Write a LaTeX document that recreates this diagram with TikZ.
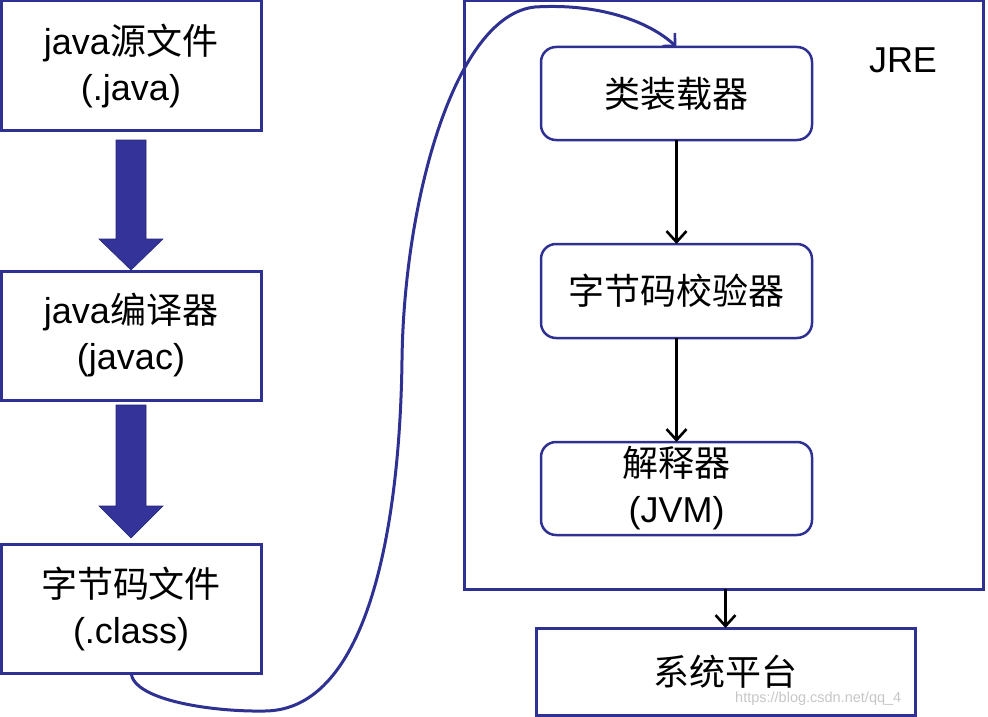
\documentclass[tikz,border=0pt]{standalone}
\usepackage{fontspec}
\setmainfont{Liberation Sans}
\newfontfamily\cjk{Noto Sans CJK SC}
\usetikzlibrary{calc,arrows.meta}
\definecolor{navy}{RGB}{46,49,146}
\definecolor{fatfill}{RGB}{51,51,153}
\begin{document}
\begin{tikzpicture}[x=1pt,y=-1pt,
  lbl/.style={align=center,font=\fontsize{36}{46}\selectfont,inner sep=0pt,outer sep=0pt},
  sqbox/.style={lbl,draw=navy,line width=3pt,fill=white},
  rbox/.style={lbl,draw=navy,line width=2.5pt,rounded corners=15pt,fill=white},
  fat/.style={fill=fatfill,draw=navy!80!black,line width=0.6pt},
  blk/.style={line width=2.6pt,-{Straight Barb[length=11pt,width=20pt,line width=2.6pt]}},
  curvy/.style={draw=navy,line width=3pt,-{Straight Barb[length=9pt,width=18pt,line width=2.6pt]}}]
\useasboundingbox (0,0) rectangle (988,717);
\fill[white] (0,0) rectangle (988,717);
% left column
\node[sqbox,minimum width=260pt,minimum height=129pt] (src) at (131,65.5) {java{\cjk 源文件}\\(.java)};
\node[sqbox,minimum width=260pt,minimum height=129pt] (javac) at (131,335.5) {java{\cjk 编译器}\\(javac)};
\node[sqbox,minimum width=260pt,minimum height=129pt] (cls) at (131,608.5) {{\cjk 字节码文件}\\(.class)};
% fat arrows
\coordinate (a1s) at ($(src.south)+(0,10)$);
\coordinate (a1e) at ($(javac.north)+(0,-1)$);
\filldraw[fat] ($(a1s)+(-15,0)$) -- ($(a1s)+(15,0)$) -- ($(a1e)+(15,-31)$) -- ($(a1e)+(32,-31)$) -- (a1e) -- ($(a1e)+(-32,-31)$) -- ($(a1e)+(-15,-31)$) -- cycle;
\coordinate (a2s) at ($(javac.south)+(0,5)$);
\coordinate (a2e) at ($(cls.north)+(0,-6)$);
\filldraw[fat] ($(a2s)+(-15,0)$) -- ($(a2s)+(15,0)$) -- ($(a2e)+(15,-32)$) -- ($(a2e)+(32,-32)$) -- (a2e) -- ($(a2e)+(-32,-32)$) -- ($(a2e)+(-15,-32)$) -- cycle;
% JRE container
\node[sqbox,minimum width=519pt,minimum height=588pt] (jre) at (723.5,295) {};
\node[lbl] (jrelbl) at (903,60) {JRE};
\node[rbox,minimum width=271pt,minimum height=93pt] (loader) at (676.5,93.5) {{\cjk 类装载器}};
\node[rbox,minimum width=271pt,minimum height=94pt] (verif) at (676.5,291) {{\cjk 字节码校验器}};
\node[rbox,minimum width=271pt,minimum height=93pt] (interp) at (676.5,488.5) {{\cjk 解释器}\\(JVM)};
\node[sqbox,minimum width=379pt,minimum height=87pt] (plat) at (725.5,671.5) {{\cjk 系统平台}};
% black arrows
\draw[blk] (loader.south) -- (verif.north);
\draw[blk] (verif.south) -- (interp.north);
\draw[blk] (plat.north |- jre.south) -- (plat.north);
% curved connector
\draw[curvy] (cls.south) .. controls +(3,28) and (215,712) .. (265,711)
  .. controls (370,710) and (400,520) .. (402,360)
  .. controls (404,200) and (455,15) .. (535,7)
  .. controls (600,3) and (650,22) .. (loader.north);
% watermark
\begin{scope}
\clip (plat.south west) rectangle (plat.north east);
\node[anchor=west,inner sep=0pt,text=black!22,font=\fontsize{14.5}{15}\selectfont] (wm) at (735,699) {https://blog.csdn.net/qq\_4};
\end{scope}
\end{tikzpicture}
\end{document}
